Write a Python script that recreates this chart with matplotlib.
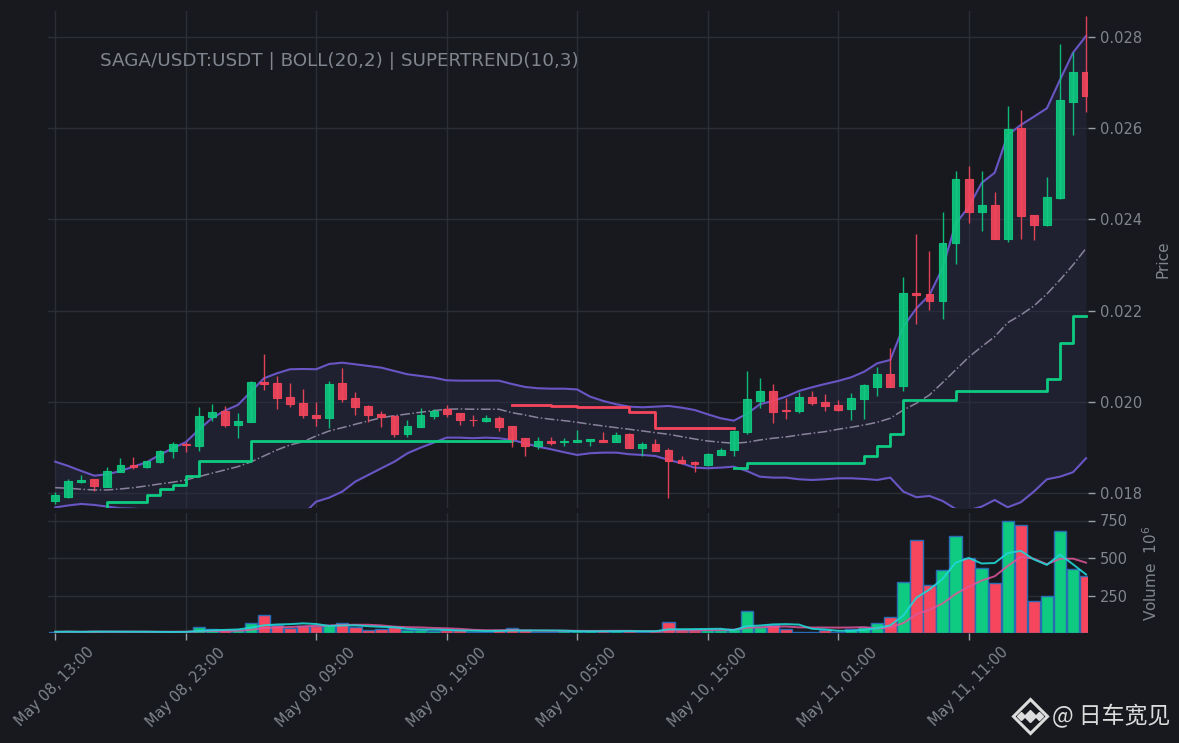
import numpy as np
import pandas as pd
import matplotlib
matplotlib.use('Agg')
import matplotlib.pyplot as plt
from matplotlib.lines import Line2D

# hourly candles, May 08 13:00 -> May 11 20:00
opens = [0.01783, 0.01792, 0.01824, 0.01831, 0.01814, 0.01847, 0.01862, 0.01858, 0.01867, 0.01891,
         0.01907, 0.01904, 0.01967, 0.01980, 0.01949, 0.01956, 0.02043, 0.02042, 0.02011, 0.01998,
         0.01971, 0.01965, 0.02041, 0.02009, 0.01991, 0.01973, 0.01969, 0.01929, 0.01945, 0.01969,
         0.01984, 0.01976, 0.01961, 0.01958, 0.01965, 0.01947, 0.01920, 0.01902, 0.01914, 0.01911,
         0.01912, 0.01914, 0.01916, 0.01912, 0.01929, 0.01899, 0.01907, 0.01894, 0.01872, 0.01868,
         0.01861, 0.01883, 0.01894, 0.01933, 0.02002, 0.02024, 0.01982, 0.01980, 0.02011, 0.02000,
         0.01993, 0.01984, 0.02006, 0.02033, 0.02061, 0.02035, 0.02238, 0.02236, 0.02220, 0.02348,
         0.02489, 0.02417, 0.02432, 0.02358, 0.02601, 0.02410, 0.02388, 0.02446, 0.02658, 0.02724]
highs = [0.01803, 0.01830, 0.01839, 0.01831, 0.01858, 0.01876, 0.01878, 0.01870, 0.01894, 0.01911,
         0.01912, 0.01988, 0.01995, 0.01991, 0.01975, 0.02046, 0.02104, 0.02057, 0.02041, 0.02027,
         0.02000, 0.02046, 0.02073, 0.02021, 0.01993, 0.01980, 0.01971, 0.01959, 0.01986, 0.01984,
         0.01993, 0.01976, 0.01971, 0.01970, 0.01969, 0.01947, 0.01921, 0.01922, 0.01922, 0.01920,
         0.01938, 0.01918, 0.01934, 0.01933, 0.01931, 0.01912, 0.01918, 0.01898, 0.01882, 0.01869,
         0.01887, 0.01898, 0.01937, 0.02068, 0.02052, 0.02038, 0.02009, 0.02022, 0.02024, 0.02016,
         0.02004, 0.02020, 0.02039, 0.02077, 0.02117, 0.02274, 0.02367, 0.02331, 0.02416, 0.02505,
         0.02516, 0.02505, 0.02461, 0.02649, 0.02640, 0.02410, 0.02494, 0.02784, 0.02768, 0.02846]
lows = [0.01776, 0.01790, 0.01821, 0.01805, 0.01814, 0.01846, 0.01852, 0.01854, 0.01865, 0.01877,
        0.01889, 0.01892, 0.01958, 0.01945, 0.01920, 0.01955, 0.02026, 0.01984, 0.01989, 0.01964,
        0.01947, 0.01943, 0.02000, 0.01970, 0.01956, 0.01945, 0.01923, 0.01922, 0.01945, 0.01962,
        0.01967, 0.01948, 0.01947, 0.01955, 0.01936, 0.01900, 0.01880, 0.01896, 0.01905, 0.01904,
        0.01911, 0.01902, 0.01911, 0.01911, 0.01898, 0.01882, 0.01891, 0.01788, 0.01864, 0.01845,
        0.01860, 0.01883, 0.01881, 0.01929, 0.01986, 0.01953, 0.01962, 0.01975, 0.01993, 0.01980,
        0.01980, 0.01959, 0.01962, 0.02013, 0.02032, 0.02024, 0.02171, 0.02201, 0.02182, 0.02302,
        0.02391, 0.02375, 0.02356, 0.02351, 0.02357, 0.02355, 0.02386, 0.02445, 0.02585, 0.02635]
closes = [0.01796, 0.01826, 0.01829, 0.01816, 0.01848, 0.01861, 0.01858, 0.01869, 0.01892, 0.01907,
          0.01905, 0.01969, 0.01978, 0.01949, 0.01958, 0.02044, 0.02040, 0.02009, 0.01995, 0.01971,
          0.01965, 0.02038, 0.02006, 0.01989, 0.01971, 0.01967, 0.01929, 0.01947, 0.01971, 0.01980,
          0.01973, 0.01960, 0.01959, 0.01964, 0.01945, 0.01918, 0.01902, 0.01914, 0.01910, 0.01913,
          0.01916, 0.01918, 0.01912, 0.01927, 0.01899, 0.01907, 0.01892, 0.01871, 0.01866, 0.01863,
          0.01886, 0.01894, 0.01936, 0.02006, 0.02024, 0.01978, 0.01980, 0.02011, 0.01998, 0.01991,
          0.01982, 0.02008, 0.02037, 0.02061, 0.02033, 0.02238, 0.02234, 0.02222, 0.02349, 0.02489,
          0.02417, 0.02432, 0.02358, 0.02598, 0.02408, 0.02388, 0.02448, 0.02662, 0.02724, 0.02671]

# volume in units of 1e6
volume = [8, 10, 6, 12, 10, 8, 8, 6, 6, 8,
          10, 37, 28, 21, 21, 70, 117, 55, 32, 48,
          48, 52, 70, 39, 17, 28, 37, 17, 17, 13,
          21, 17, 8, 8, 17, 32, 17, 10, 8, 12,
          14, 12, 12, 12, 14, 10, 12, 73, 17, 17,
          17, 17, 26, 150, 39, 55, 26, 10, 10, 17,
          10, 26, 43, 66, 110, 340, 617, 317, 417, 650,
          500, 433, 333, 750, 722, 215, 250, 677, 426, 383]

boll_upper = [0.018686, 0.018592, 0.018482, 0.018379, 0.018410, 0.018482, 0.018577, 0.018673, 0.018833, 0.018980,
              0.019112, 0.019382, 0.019638, 0.019805, 0.019930, 0.020221, 0.020515, 0.020625, 0.020713, 0.020719,
              0.020713, 0.020829, 0.020857, 0.020822, 0.020785, 0.020748, 0.020675, 0.020603, 0.020566, 0.020529,
              0.020471, 0.020463, 0.020463, 0.020463, 0.020463, 0.020390, 0.020325, 0.020296, 0.020287, 0.020287,
              0.020270, 0.020112, 0.020018, 0.019945, 0.019893, 0.019879, 0.019893, 0.019908, 0.019871, 0.019820,
              0.019726, 0.019638, 0.019586, 0.019732, 0.019945, 0.020018, 0.020112, 0.020237, 0.020318, 0.020390,
              0.020456, 0.020537, 0.020660, 0.020844, 0.020917, 0.021647, 0.022050, 0.022342, 0.022928, 0.023899,
              0.024272, 0.024798, 0.025024, 0.025851, 0.026070, 0.026252, 0.026436, 0.027057, 0.027656, 0.028022]
boll_mid = [0.018116, 0.018103, 0.018081, 0.018066, 0.018066, 0.018088, 0.018116, 0.018154, 0.018197, 0.018235,
            0.018285, 0.018357, 0.018432, 0.018504, 0.018577, 0.018680, 0.018811, 0.018943, 0.019053, 0.019125,
            0.019250, 0.019360, 0.019432, 0.019507, 0.019579, 0.019651, 0.019695, 0.019732, 0.019770, 0.019805,
            0.019836, 0.019842, 0.019836, 0.019836, 0.019836, 0.019761, 0.019711, 0.019651, 0.019616, 0.019586,
            0.019550, 0.019507, 0.019469, 0.019432, 0.019397, 0.019360, 0.019322, 0.019287, 0.019235, 0.019184,
            0.019140, 0.019112, 0.019090, 0.019112, 0.019162, 0.019200, 0.019228, 0.019272, 0.019309, 0.019344,
            0.019397, 0.019441, 0.019491, 0.019550, 0.019638, 0.019820, 0.019967, 0.020149, 0.020419, 0.020697,
            0.020976, 0.021208, 0.021428, 0.021735, 0.021904, 0.022101, 0.022364, 0.022671, 0.023000, 0.023366]
boll_lower = [0.017682, 0.017726, 0.017759, 0.017737, 0.017700, 0.017664, 0.017655, 0.017635, 0.017561, 0.017490,
              0.017458, 0.017332, 0.017226, 0.017203, 0.017224, 0.017139, 0.017107, 0.017261, 0.017393, 0.017531,
              0.017809, 0.017897, 0.018029, 0.018248, 0.018395, 0.018542, 0.018686, 0.018871, 0.018993, 0.019103,
              0.019213, 0.019213, 0.019200, 0.019213, 0.019200, 0.019162, 0.019090, 0.019015, 0.018958, 0.018893,
              0.018833, 0.018871, 0.018884, 0.018884, 0.018849, 0.018833, 0.018811, 0.018724, 0.018651, 0.018555,
              0.018542, 0.018555, 0.018577, 0.018482, 0.018357, 0.018336, 0.018336, 0.018300, 0.018285, 0.018300,
              0.018322, 0.018322, 0.018307, 0.018285, 0.018336, 0.018029, 0.017906, 0.017934, 0.017825, 0.017650,
              0.017620, 0.017700, 0.017846, 0.017686, 0.017796, 0.018029, 0.018300, 0.018357, 0.018454, 0.018761]

nan = float('nan')
st_up = [0.01745] * 4 + [0.01781] * 3 + [0.01796, 0.01808, 0.01818, 0.01837] + [0.01869] * 4 \
        + [0.01913] * 20 + [nan] * 17 + [0.01854] + [0.01865] * 9 + [0.01880, 0.01903, 0.01929] \
        + [0.02004] * 4 + [0.02023] * 7 + [0.02050, 0.02128, 0.02188, 0.02188]
st_down = [nan] * 35 + [0.01993] * 3 + [0.01991] * 2 + [0.01988] * 4 + [0.01977] * 2 \
          + [0.01943] * 6 + [nan] * 28

tick_pos = [0, 10, 20, 30, 40, 50, 60, 70]
tick_labels = ['May 08, 13:00', 'May 08, 23:00', 'May 09, 09:00', 'May 09, 19:00',
               'May 10, 05:00', 'May 10, 15:00', 'May 11, 01:00', 'May 11, 11:00']
title = 'SAGA/USDT:USDT | BOLL(20,2) | SUPERTREND(10,3)'

BG = '#17191e'
GRID = '#2b2e35'
TXT = '#80858e'
UP = '#0ecb81'
DOWN = '#f6465d'

x = np.arange(len(closes))
o = np.array(opens)
c = np.array(closes)
up = c >= o
colors = np.where(up, UP, DOWN)

fig = plt.figure(figsize=(11.79, 7.43), dpi=100, facecolor=BG)
ax = fig.add_axes([48 / 1179, 235 / 743, 1040 / 1179, 497 / 743])
axv = fig.add_axes([48 / 1179, 110 / 743, 1040 / 1179, 120 / 743], sharex=ax)

for a in (ax, axv):
    a.set_facecolor(BG)
    for s in a.spines.values():
        s.set_visible(False)
    a.grid(True, color=GRID, linewidth=1)
    a.set_axisbelow(True)
    a.yaxis.tick_right()
    a.yaxis.set_label_position('right')
    a.tick_params(axis='y', colors='#9a9ea6', labelcolor=TXT, labelsize=10.5, length=5, width=1)

# bollinger band
ax.fill_between(x, boll_lower, boll_upper, color='#2a2c48', alpha=0.45, linewidth=0, zorder=1)
ax.plot(x, boll_upper, color='#6a55c4', linewidth=1.5, zorder=2)
ax.plot(x, boll_lower, color='#6a55c4', linewidth=1.5, zorder=2)
ax.plot(x, boll_mid, color='#8a829c', linewidth=1.1, linestyle='-.', zorder=2)

# supertrend
ax.plot(x, st_up, color=UP, linewidth=2, drawstyle='steps-post', zorder=3)
ax.plot(x, st_down, color=DOWN, linewidth=2, drawstyle='steps-post', zorder=3)

# candles
ax.vlines(x, lows, highs, colors=colors, linewidth=1, alpha=0.9, zorder=4)
ax.bar(x, c - o, bottom=o, width=0.6, color=colors, edgecolor=colors,
       linewidth=0.8, alpha=0.9, zorder=5)

ax.set_ylim(0.01767, 0.02857)
ax.set_yticks([0.018, 0.020, 0.022, 0.024, 0.026, 0.028])
ax.set_yticklabels(['0.018', '0.020', '0.022', '0.024', '0.026', '0.028'])
ax.set_ylabel('Price', color=TXT, fontsize=11, labelpad=10)
ax.tick_params(axis='x', bottom=False, labelbottom=False)
ax.text(0.05, 0.9, title, transform=ax.transAxes, color=TXT, fontsize=13.2, va='center', ha='left')

# volume
vol = pd.Series(volume, dtype=float)
axv.bar(x, vol, width=0.95, color=colors, edgecolor='#2a6cb3', linewidth=1, zorder=2)
axv.plot(x, vol.rolling(10, min_periods=1).mean(), color='#e0559a', linewidth=1.4, alpha=0.85, zorder=3)
axv.plot(x, vol.rolling(5, min_periods=1).mean(), color='#1fd6d6', linewidth=1.4, alpha=0.9, zorder=4)
axv.set_ylim(0, 800)
axv.set_yticks([250, 500, 750])
axv.set_ylabel('Volume  $10^{6}$', color=TXT, fontsize=11, labelpad=10)

axv.set_xlim(-0.55, 79.15)
axv.set_xticks(tick_pos)
axv.set_xticklabels(tick_labels, rotation=45, ha='center')
axv.tick_params(axis='x', colors='#9a9ea6', labelcolor=TXT, labelsize=10.5, length=5, width=1)

# watermark
fig.text(0.892, 0.036, '@ 日车宽见', color='#dcdcdc', fontsize=16.5, va='center', ha='left',
         family=['Noto Sans CJK SC', 'DejaVu Sans'])
cx, cy = 1030 / 1179, 27 / 743
dx, dy = 9 / 1179, 9 / 743
for px, py, ms in [(cx, cy, 6), (cx - dx, cy, 4.5), (cx + dx, cy, 4.5)]:
    fig.add_artist(Line2D([px], [py], marker='D', markersize=ms, color='#dcdcdc',
                          linestyle='none', transform=fig.transFigure))
fig.add_artist(Line2D([cx], [cy], marker='D', markersize=17, markerfacecolor='none',
                      markeredgecolor='#dcdcdc', markeredgewidth=2.2, linestyle='none',
                      transform=fig.transFigure))

fig.savefig('out.png', dpi=100, facecolor=BG)
